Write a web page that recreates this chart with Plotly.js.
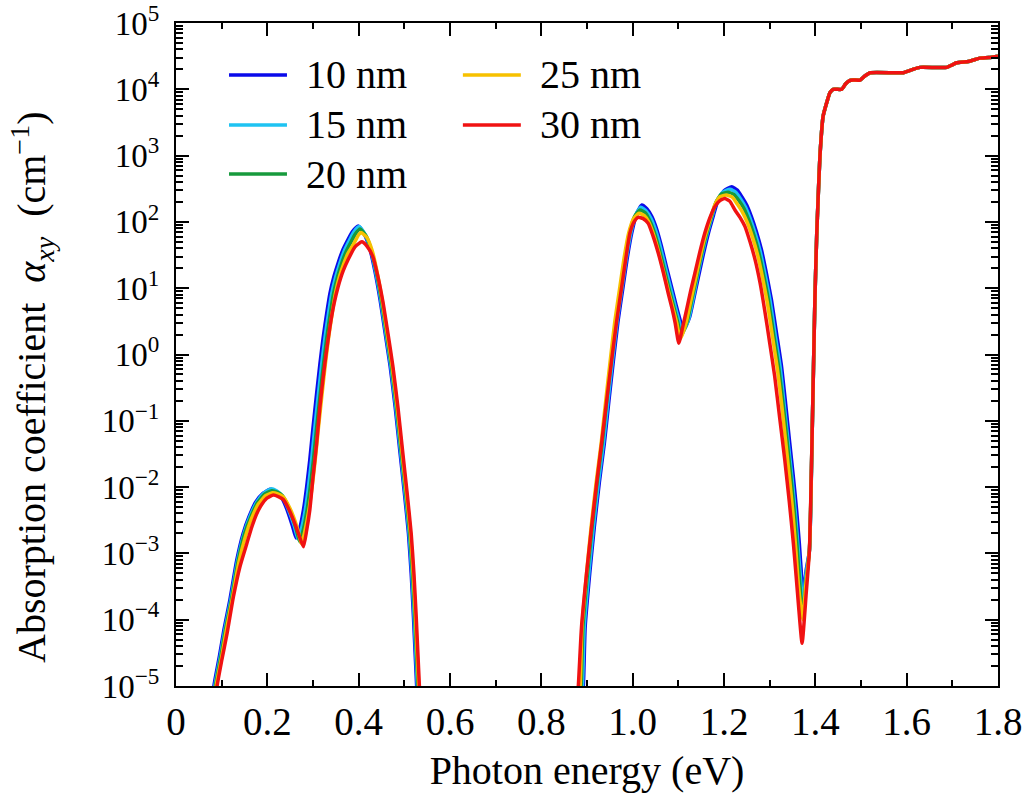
<!DOCTYPE html>
<html>
<head>
<meta charset="utf-8">
<script src="https://cdn.plot.ly/plotly-3.0.1.min.js"></script>
<style>
  html, body { margin: 0; padding: 0; background: #ffffff; }
  #chart { width: 1025px; height: 810px; }
</style>
</head>
<body>
<div id="chart"></div>
<script>
// Photon energy (eV) and absorption coefficient alpha_xy (cm^-1) for each thickness.
// Each series has a low-energy band (a) and a high-energy band (b); all series share the band edge above 1.39 eV.

// 10 nm
const e10a = [0.075,0.083,0.095,0.105,0.118,0.133,0.147,0.160,0.175,0.191,0.206,0.218,0.228,0.242,0.255,0.263,0.271,0.279,0.286,0.293,0.300,0.308,0.315,0.3225,0.330,0.337,0.346,0.355,0.364,0.374,0.386,0.399,0.412,0.425,0.436,0.447,0.458,0.469,0.480,0.490,0.500,0.509,0.515,0.520,0.527,0.532];
const a10a = [2.5e-6,1.0e-5,2.8e-5,7.1e-5,2.0e-4,7.9e-4,2.0e-3,3.6e-3,6.0e-3,8.1e-3,9.3e-3,8.7e-3,7.6e-3,4.8e-3,2.6e-3,1.7e-3,2.4e-3,4.5e-3,1.0e-2,2.6e-2,7.9e-2,0.26,0.71,1.86,4.2,8.3,15.1,24,36,50,71,87,66,38,17.4,6.6,2.1,0.66,0.16,3.6e-2,8.3e-3,2.0e-3,5.0e-4,1.1e-4,1.0e-5,2.5e-6];
const e10b = [0.884,0.892,0.896,0.906,0.916,0.927,0.938,0.948,0.958,0.968,0.979,0.988,0.998,1.009,1.020,1.031,1.042,1.053,1.063,1.074,1.085,1.095,1.104,1.111,1.118,1.125,1.135,1.144,1.155,1.166,1.177,1.187,1.200,1.217,1.229,1.239,1.250,1.260,1.271,1.282,1.293,1.304,1.315,1.326,1.335,1.344,1.352,1.359,1.365,1.370,1.374,1.380,1.387];
const a10b = [2.5e-6,1.0e-5,7.8e-5,5.0e-4,2.5e-3,1.17e-2,4.6e-2,0.20,0.83,3.2,10.5,28,68,135,180,158,120,76,43,21,10.5,5.6,3.3,2.3,2.8,3.7,7.6,14.8,33,68,126,214,295,339,302,240,178,120,71,38,16.6,6.6,2.1,0.66,0.18,4.6e-2,1.4e-2,4.5e-3,1.4e-3,4.5e-4,2.5e-4,5.6e-4,1.1e-3];

// 15 nm
const e15a = [0.077,0.085,0.097,0.107,0.120,0.135,0.149,0.162,0.177,0.193,0.208,0.220,0.231,0.245,0.259,0.267,0.275,0.283,0.290,0.297,0.304,0.312,0.319,0.3265,0.334,0.341,0.350,0.359,0.368,0.378,0.389,0.401,0.414,0.4265,0.4375,0.4485,0.4595,0.4705,0.4815,0.4915,0.5015,0.5105,0.5165,0.5215,0.5285,0.5335];
const a15a = [2.5e-6,1.0e-5,2.8e-5,7.1e-5,2.0e-4,7.9e-4,2.0e-3,3.6e-3,6.0e-3,8.2e-3,9.4e-3,8.8e-3,7.6e-3,4.8e-3,2.6e-3,1.65e-3,2.4e-3,4.5e-3,1.0e-2,2.6e-2,7.9e-2,0.26,0.71,1.86,4.2,8.3,15,24,36,50,70,85,65,38,17.4,6.6,2.1,0.66,0.16,3.6e-2,8.3e-3,2.0e-3,5.0e-4,1.1e-4,1.0e-5,2.5e-6];
const e15b = [0.882,0.890,0.894,0.904,0.914,0.925,0.936,0.946,0.956,0.966,0.977,0.986,0.996,1.007,1.018,1.029,1.040,1.051,1.061,1.072,1.083,1.093,1.102,1.109,1.116,1.123,1.133,1.141,1.152,1.163,1.174,1.184,1.197,1.213,1.226,1.236,1.247,1.257,1.268,1.279,1.290,1.301,1.312,1.323,1.332,1.341,1.349,1.356,1.362,1.368,1.373,1.379,1.387];
const a15b = [2.5e-6,1.0e-5,7.8e-5,5.0e-4,2.5e-3,1.17e-2,4.6e-2,0.20,0.83,3.2,10.5,28,68,130,166,148,113,72,41,20,10,5.3,3.1,2.1,2.6,3.5,7.3,14.2,32,66,122,206,280,310,280,224,168,114,68,36.5,16,6.4,2.0,0.64,0.17,4.4e-2,1.35e-2,4.3e-3,1.3e-3,3.8e-4,1.6e-4,4.5e-4,1.1e-3];

// 20 nm
const e20a = [0.0785,0.0865,0.0985,0.1085,0.1215,0.1365,0.1505,0.1635,0.1785,0.1945,0.2095,0.2215,0.233,0.248,0.262,0.271,0.279,0.287,0.294,0.301,0.308,0.316,0.323,0.3305,0.338,0.345,0.354,0.363,0.372,0.382,0.393,0.403,0.416,0.428,0.439,0.450,0.461,0.472,0.483,0.493,0.503,0.512,0.518,0.523,0.530,0.535];
const a20a = [2.5e-6,1.0e-5,2.8e-5,7.1e-5,2.0e-4,7.9e-4,2.0e-3,3.5e-3,5.8e-3,7.9e-3,8.8e-3,8.4e-3,7.4e-3,4.7e-3,2.5e-3,1.5e-3,2.3e-3,4.5e-3,1.0e-2,2.6e-2,7.9e-2,0.26,0.71,1.86,4.2,8.3,15,24,35,48,66,78,62,37,17.4,6.6,2.1,0.66,0.16,3.6e-2,8.3e-3,2.0e-3,5.0e-4,1.1e-4,1.0e-5,2.5e-6];
const e20b = [0.879,0.887,0.891,0.901,0.911,0.922,0.933,0.943,0.953,0.963,0.974,0.983,0.993,1.004,1.016,1.027,1.037,1.048,1.058,1.069,1.080,1.090,1.099,1.106,1.113,1.120,1.130,1.139,1.150,1.161,1.172,1.182,1.194,1.209,1.222,1.233,1.244,1.254,1.265,1.276,1.287,1.298,1.309,1.320,1.330,1.339,1.347,1.354,1.360,1.366,1.372,1.379,1.387];
const a20b = [2.5e-6,1.0e-5,7.8e-5,5.0e-4,2.5e-3,1.17e-2,4.6e-2,0.20,0.83,3.2,10.5,28,67,120,151,138,106,68,39,19.5,9.6,5.2,3.0,1.9,2.4,3.3,7.0,13.6,31,64,117,195,262,279,258,208,158,108,65,35,15.5,6.2,1.95,0.62,0.165,4.3e-2,1.3e-2,4.1e-3,1.25e-3,3.5e-4,1.1e-4,3.5e-4,1.1e-3];

// 25 nm
const e25a = [0.080,0.088,0.100,0.110,0.123,0.138,0.152,0.165,0.180,0.196,0.211,0.223,0.234,0.250,0.265,0.275,0.283,0.291,0.298,0.305,0.312,0.320,0.327,0.3345,0.342,0.349,0.358,0.367,0.376,0.388,0.400,0.405,0.418,0.4295,0.4405,0.4515,0.4625,0.4735,0.4845,0.4945,0.5045,0.5135,0.5195,0.5245,0.5315,0.5365];
const a25a = [2.5e-6,1.0e-5,2.7e-5,6.8e-5,2.0e-4,7.5e-4,1.8e-3,3.3e-3,5.5e-3,7.4e-3,8.2e-3,7.9e-3,7.2e-3,4.7e-3,2.5e-3,1.4e-3,2.3e-3,4.5e-3,1.0e-2,2.6e-2,7.9e-2,0.26,0.71,1.86,4.2,8.3,15,23,33,45,64,69,58,37,17.4,6.6,2.1,0.66,0.16,3.6e-2,8.3e-3,2.0e-3,5.0e-4,1.1e-4,1.0e-5,2.5e-6];
const e25b = [0.877,0.885,0.889,0.899,0.909,0.920,0.931,0.941,0.951,0.961,0.972,0.981,0.991,1.002,1.014,1.025,1.035,1.046,1.056,1.067,1.078,1.088,1.097,1.104,1.111,1.118,1.128,1.137,1.148,1.159,1.170,1.180,1.191,1.205,1.218,1.229,1.240,1.251,1.262,1.273,1.284,1.295,1.306,1.317,1.327,1.336,1.344,1.351,1.357,1.363,1.372,1.379,1.387];
const a25b = [2.5e-6,1.0e-5,7.8e-5,5.0e-4,2.5e-3,1.17e-2,4.6e-2,0.20,0.83,3.2,10.5,28,67,112,135,125,100,64,37,18.5,9.2,5.1,2.9,1.7,2.2,3.2,6.8,13.2,30,62,112,182,240,254,236,186,142,98,60,33,15,6.0,1.9,0.60,0.16,4.2e-2,1.25e-2,4.0e-3,1.2e-3,3.3e-4,1.0e-4,3.2e-4,1.1e-3];

// 30 nm
const e30a = [0.082,0.090,0.100,0.112,0.1256,0.140,0.155,0.166,0.177,0.188,0.199,0.213,0.224,0.235,0.246,0.257,0.268,0.279,0.286,0.293,0.300,0.308,0.315,0.3225,0.330,0.337,0.346,0.355,0.366,0.377,0.392,0.407,0.418,0.431,0.442,0.453,0.464,0.475,0.486,0.496,0.506,0.515,0.521,0.526,0.533,0.538];
const a30a = [2.5e-6,1.0e-5,2.4e-5,6.3e-5,2.2e-4,6.3e-4,1.4e-3,2.5e-3,4.0e-3,5.5e-3,6.8e-3,7.6e-3,7.2e-3,6.5e-3,4.8e-3,3.2e-3,2.0e-3,1.26e-3,2.2e-3,4.5e-3,1.4e-2,4.6e-2,0.16,0.47,1.2,2.6,5.8,10.5,18.2,27,42,50,43,30,15.1,6.3,2.1,0.66,0.16,3.6e-2,8.3e-3,2.0e-3,5.0e-4,1.1e-4,1.0e-5,2.5e-6];
const e30b = [0.874,0.881,0.888,0.899,0.910,0.921,0.932,0.943,0.954,0.965,0.976,0.985,0.994,1.003,1.012,1.023,1.034,1.045,1.056,1.067,1.078,1.086,1.093,1.101,1.109,1.118,1.127,1.136,1.147,1.158,1.169,1.180,1.191,1.202,1.213,1.224,1.235,1.246,1.257,1.268,1.279,1.289,1.300,1.311,1.322,1.333,1.343,1.352,1.358,1.364,1.371,1.380,1.387];
const a30b = [2.5e-6,1.0e-5,7.8e-5,5.0e-4,2.5e-3,1.12e-2,4.6e-2,0.20,0.83,3.2,10.5,28,68,100,117,112,95,60,34,17.4,8.3,5.0,3.0,1.48,2.5,4.7,9.1,16.6,35,68,115,170,209,226,204,151,117,85,50,27,12.0,4.7,1.51,0.47,0.11,2.6e-2,6.0e-3,1.4e-3,4.5e-4,1.4e-4,4.4e-5,2.5e-4,1.1e-3];

// Fundamental absorption edge (identical for every thickness)
const edgeE = [1.393,1.399,1.403,1.406,1.410,1.417,1.425,1.432,1.439,1.458,1.466,1.475,1.483,1.498,1.508,1.520,1.593,1.605,1.614,1.629,1.688,1.700,1.709,1.735,1.745,1.760,1.780,1.800];
const edgeA = [6.3e-2,6.6,63,214,955,3900,6300,8900,10000,10000,12000,13500,13800,13800,15800,17800,17800,19000,20000,21400,21400,23400,25100,26300,27500,29500,30200,31600];

const seriesNames  = ['10 nm', '15 nm', '20 nm', '25 nm', '30 nm'];
const seriesColors = ['#0a0aea', '#1ec3f2', '#179a3c', '#f7c100', '#f01212'];

const xTickVals = [0, 0.2, 0.4, 0.6, 0.8, 1.0, 1.2, 1.4, 1.6, 1.8];
const xTickText = ['0', '0.2', '0.4', '0.6', '0.8', '1.0', '1.2', '1.4', '1.6', '1.8'];
const yTickVals = [1e-5, 1e-4, 1e-3, 1e-2, 1e-1, 1e0, 1e1, 1e2, 1e3, 1e4, 1e5];
const yTickText = ['10<sup>\u22125</sup>', '10<sup>\u22124</sup>', '10<sup>\u22123</sup>', '10<sup>\u22122</sup>', '10<sup>\u22121</sup>',
                   '10<sup>0</sup>', '10<sup>1</sup>', '10<sup>2</sup>', '10<sup>3</sup>', '10<sup>4</sup>', '10<sup>5</sup>'];

const bandsE = [[e10a, e10b], [e15a, e15b], [e20a, e20b], [e25a, e25b], [e30a, e30b]];
const bandsA = [[a10a, a10b], [a15a, a15b], [a20a, a20b], [a25a, a25b], [a30a, a30b]];

const FONT = '"Liberation Serif", "Times New Roman", Times, serif';

const traces = seriesNames.map((name, i) => ({
  type: 'scatter',
  mode: 'lines',
  name: name,
  showlegend: false,
  x: [...bandsE[i][0], null, ...bandsE[i][1], ...edgeE],
  y: [...bandsA[i][0], null, ...bandsA[i][1], ...edgeA],
  line: { color: seriesColors[i], width: 3.5, shape: 'spline', smoothing: 0.5 },
  hoverinfo: 'x+y+name'
}));

// Legend: two columns drawn as line samples with labels
const legendCols = [0, 0, 0, 1, 1];
const legendRows = [0, 1, 2, 0, 1];
const colX0 = [0.0645, 0.349];
const sampleLen = 0.0705;
const rowY = [0.9216, 0.8462, 0.7722];
const shapes = seriesNames.map((name, i) => ({
  type: 'line', xref: 'paper', yref: 'paper',
  x0: colX0[legendCols[i]], x1: colX0[legendCols[i]] + sampleLen,
  y0: rowY[legendRows[i]], y1: rowY[legendRows[i]],
  line: { color: seriesColors[i], width: 3.5 }
}));
const annotations = seriesNames.map((name, i) => ({
  xref: 'paper', yref: 'paper',
  x: colX0[legendCols[i]] + sampleLen + 0.021, y: rowY[legendRows[i]],
  xanchor: 'left', yanchor: 'middle',
  text: name, showarrow: false,
  font: { family: FONT, size: 40, color: '#000' }
}));
annotations.push({
  xref: 'paper', yref: 'paper',
  x: -0.176, y: 0.45, xanchor: 'center', yanchor: 'middle',
  textangle: -90, showarrow: false,
  text: 'Absorption coefficient  <i>\u03b1</i><sub><i>xy</i></sub>  (cm<sup>\u22121</sup>)',
  font: { family: FONT, size: 40, color: '#000' }
});

const layout = {
  width: 1025,
  height: 810,
  margin: { l: 176, r: 27, t: 23, b: 124, pad: 0 },
  paper_bgcolor: '#ffffff',
  plot_bgcolor: '#ffffff',
  font: { family: FONT, color: '#000' },
  showlegend: false,
  xaxis: {
    range: [0, 1.8],
    tickmode: 'array', tickvals: xTickVals, ticktext: xTickText,
    ticks: 'inside', ticklen: 13, tickwidth: 2, tickcolor: '#000',
    minor: { tickmode: 'linear', tick0: 0, dtick: 0.1, ticks: 'inside', ticklen: 6, tickwidth: 2, tickcolor: '#000' },
    showline: true, linewidth: 2, linecolor: '#000', mirror: 'ticks',
    showgrid: false, zeroline: false,
    tickfont: { family: FONT, size: 39, color: '#000' },
    ticklabelstandoff: 0,
    ticklabeloverflow: 'allow',
    title: { text: 'Photon energy (eV)', font: { family: FONT, size: 40, color: '#000' }, standoff: 14 }
  },
  yaxis: {
    type: 'log',
    range: [-5, 5],
    tickmode: 'array', tickvals: yTickVals, ticktext: yTickText,
    ticks: 'inside', ticklen: 13, tickwidth: 2, tickcolor: '#000',
    minor: { dtick: 'D1', ticks: 'inside', ticklen: 7, tickwidth: 2, tickcolor: '#000' },
    showline: true, linewidth: 2, linecolor: '#000', mirror: 'ticks',
    showgrid: false, zeroline: false,
    tickfont: { family: FONT, size: 33, color: '#000' },
    ticklabelstandoff: 8,
    ticklabeloverflow: 'allow'
  },
  shapes: shapes,
  annotations: annotations
};

Plotly.newPlot('chart', traces, layout, { displayModeBar: false, staticPlot: true });
</script>
</body>
</html>
